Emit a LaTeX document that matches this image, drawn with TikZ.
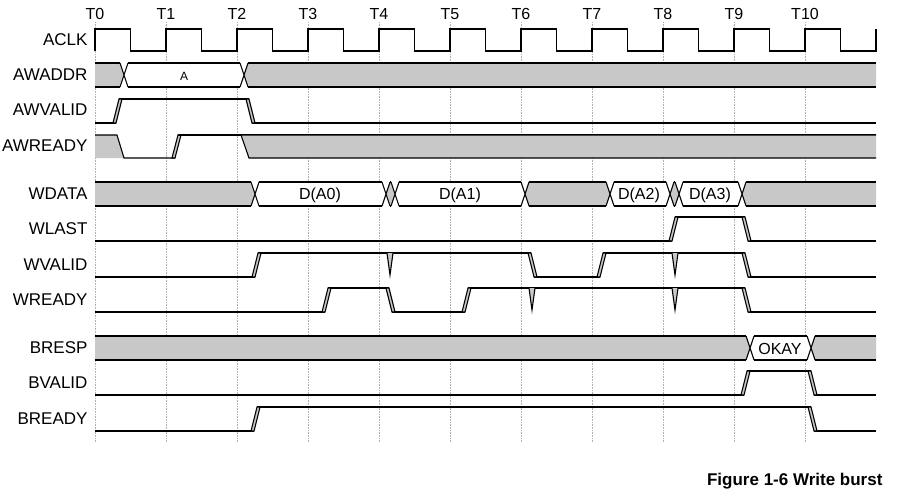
\documentclass[tikz,border=0pt]{standalone}
\usepackage{fontspec}
\setmainfont{Liberation Sans}
\definecolor{wgray}{RGB}{200,200,200}
\newcommand{\tdseg}[6]{% x1 x2 yc fill lt rt
  \fill[#4] (#1,#3) -- (#1+#5,#3-12) -- (#2-#6,#3-12) -- (#2,#3) -- (#2-#6,#3+12) -- (#1+#5,#3+12) -- cycle;
  \draw[sig] (#1+#5,#3-12) -- (#2-#6,#3-12) (#1+#5,#3+12) -- (#2-#6,#3+12);}
\newcommand{\tdx}[2]{\draw[sig] (#1-4,#2-12) -- (#1+4,#2+12) (#1-4,#2+12) -- (#1+4,#2-12);}
\newcommand{\tdrise}[3]{% x hi lo
  \filldraw[sig,fill=wgray] (#1,#3) -- (#1+6,#2) -- (#1+9,#2) -- (#1+3,#3) -- cycle;}
\newcommand{\tdfall}[3]{%
  \filldraw[sig,fill=wgray] (#1,#2) -- (#1+3,#2) -- (#1+9,#3) -- (#1+6,#3) -- cycle;}
\newcommand{\tdspike}[3]{\filldraw[sig,fill=wgray] (#1-3,#2) -- (#1,#3) -- (#1+3,#2);}
\begin{document}
\begin{tikzpicture}[x=1pt,y=-1pt,
  sig/.style={line width=1.1pt,line join=miter},
  lab/.style={anchor=east,font=\fontsize{17}{17}\selectfont},
  tlab/.style={font=\fontsize{16}{16}\selectfont},
  dat/.style={font=\fontsize{16}{16}\selectfont},
  grid/.style={gray!60,densely dotted,line width=0.6pt}]
\useasboundingbox (0,0) rectangle (910,496);
% grid and T labels
\foreach \i in {0,...,10}{
  \draw[grid] (95+71*\i,22) -- (95+71*\i,442);
  \node[tlab] (t\i) at (95+71*\i,14) {T\i};
}
% labels
\node[lab] (l1) at (91,40) {ACLK};
\node[lab] (l2) at (91,75) {AWADDR};
\node[lab] (l3) at (91,110) {AWVALID};
\node[lab] (l4) at (91,146) {AWREADY};
\node[lab] (l5) at (91,194) {WDATA};
\node[lab] (l6) at (91,229) {WLAST};
\node[lab] (l7) at (91,265) {WVALID};
\node[lab] (l8) at (91,300) {WREADY};
\node[lab] (l9) at (91,348) {BRESP};
\node[lab] (l10) at (91,383) {BVALID};
\node[lab] (l11) at (91,419) {BREADY};
% clock
\draw[sig] (95,51) -- (95,29)
  \foreach \i in {0,...,10}{ -- (95+71*\i+35.5,29) -- (95+71*\i+35.5,51) -- (95+71*\i+71,51) -- (95+71*\i+71,29)};
% AWADDR
\tdseg{95}{124}{75}{wgray}{0}{4}
\tdseg{124}{244}{75}{white}{4}{4}
\tdseg{244}{876}{75}{wgray}{4}{0}
\tdx{124}{75}\tdx{244}{75}
\node[font=\fontsize{12}{12}\selectfont] (a) at (184,76) {A};
% AWVALID
\draw[sig] (95,123) -- (116,123) (119,99) -- (249,99) (252,123) -- (876,123);
\tdrise{113}{99}{123}\tdfall{246}{99}{123}
% AWREADY
\fill[wgray] (95,135) -- (117,135) -- (124,158) -- (95,158) -- cycle;
\draw[sig] (95,135) -- (117,135) -- (124,158) -- (175,158);
\tdrise{172}{135}{158}
\draw[sig] (178,135) -- (876,135);
\fill[wgray] (241,135) -- (876,135) -- (876,158) -- (249,158) -- cycle;
\draw[sig] (876,135) -- (241,135) -- (249,158) -- (876,158);
% WDATA
\tdseg{95}{255}{194}{wgray}{0}{4}
\tdseg{255}{386}{194}{white}{4}{4}
\tdseg{386}{395}{194}{wgray}{4}{4}
\tdseg{395}{525}{194}{white}{4}{4}
\tdseg{525}{610}{194}{wgray}{4}{4}
\tdseg{610}{670}{194}{white}{4}{4}
\tdseg{670}{679}{194}{wgray}{4}{4}
\tdseg{679}{742}{194}{white}{4}{4}
\tdseg{742}{876}{194}{wgray}{4}{0}
\foreach \x in {255,386,395,525,610,670,679,742}{\tdx{\x}{194}}
\node[dat] (d0) at (320,195) {D(A0)};
\node[dat] (d1) at (460,195) {D(A1)};
\node[dat] (d2) at (639,195) {D(A2)};
\node[dat] (d3) at (710,195) {D(A3)};
% WLAST
\draw[sig] (95,241) -- (672,241) (675,217) -- (745,217) (748,241) -- (876,241);
\tdrise{669}{217}{241}\tdfall{742}{217}{241}
% WVALID
\draw[sig] (95,277) -- (255,277) (258,253) -- (531,253) (534,277) -- (600,277) (603,253) -- (745,253) (748,277) -- (876,277);
\tdrise{252}{253}{277}\tdfall{528}{253}{277}\tdrise{597}{253}{277}\tdfall{742}{253}{277}
\tdspike{390}{253}{275}\tdspike{675}{253}{275}
% WREADY
\draw[sig] (95,312) -- (325,312) (328,288) -- (389,288) (392,312) -- (465,312) (468,288) -- (745,288) (748,312) -- (876,312);
\tdrise{322}{288}{312}\tdfall{386}{288}{312}\tdrise{462}{288}{312}\tdfall{742}{288}{312}
\tdspike{532}{288}{310}\tdspike{675}{288}{310}
% BRESP
\tdseg{95}{750}{348}{wgray}{0}{4}
\tdseg{750}{811}{348}{white}{4}{4}
\tdseg{811}{876}{348}{wgray}{4}{0}
\tdx{750}{348}\tdx{811}{348}
\node[dat] (ok) at (780,349) {OKAY};
% BVALID
\draw[sig] (95,395) -- (744,395) (747,371) -- (811,371) (814,395) -- (876,395);
\tdrise{741}{371}{395}\tdfall{808}{371}{395}
% BREADY
\draw[sig] (95,431) -- (254,431) (257,407) -- (811,407) (814,431) -- (876,431);
\tdrise{251}{407}{431}\tdfall{808}{407}{431}
% caption
\node[anchor=east,font=\fontsize{17}{17}\selectfont\bfseries] (cap) at (886,481) {Figure 1-6 Write burst};
\end{tikzpicture}
\end{document}
